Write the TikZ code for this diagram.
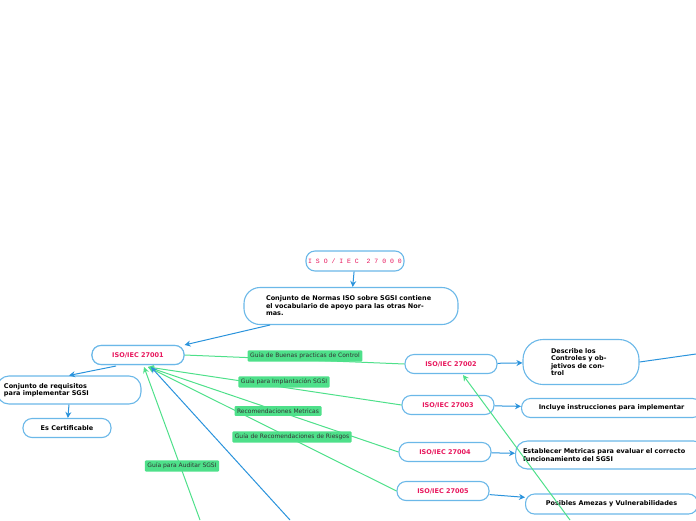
\documentclass[tikz,border=0pt]{standalone}
\usepackage{fontspec}
\setmainfont{DejaVu Sans}
\newfontfamily\monof{Liberation Mono}
\usetikzlibrary{arrows.meta}
\definecolor{bord}{HTML}{6BB8E8}
\definecolor{arr}{HTML}{2A93DC}
\definecolor{grn}{HTML}{4EE08A}
\definecolor{pnk}{HTML}{E8175D}
\begin{document}
\begin{tikzpicture}[x=1pt,y=-1pt,
 box/.style={draw=bord,line width=1.1pt,rounded corners=9pt,fill=white,inner sep=2pt,font=\fontsize{6.5}{7.5}\selectfont\bfseries},
 iso/.style={box,minimum width=92pt,minimum height=19pt,text=pnk},
 lab/.style={fill=grn,rounded corners=1pt,inner sep=2.5pt,font=\fontsize{6}{7}\selectfont,text=black!80},
 ba/.style={draw=arr,line width=1pt,-{Stealth[length=6pt,width=6pt]}},
 ga/.style={draw=grn,line width=1pt,-{Stealth[length=6pt,width=6pt]}},
 gl/.style={draw=grn,line width=1pt}]
\useasboundingbox (0,0) rectangle (696,520);
\node[box,minimum width=98pt,minimum height=20pt,text=pnk,font=\monof\fontsize{6.5}{7.5}\selectfont] (i0) at (355,261) {I S O / I E C\ \ 2 7 0 0 0};
\node[box,minimum width=214pt,minimum height=37pt,rounded corners=16pt,text width=170pt,align=left] (c0) at (351,306) {Conjunto de Normas ISO sobre SGSI contiene el vocabulario de apoyo para las otras Normas.};
\node[iso] (i1) at (138,355) {ISO/IEC 27001};
\node[box,minimum width=144pt,minimum height=28pt,rounded corners=12pt,text width=130pt,align=left] (req) at (69,390) {Conjunto de requisitos\\para implementar SGSI};
\node[box,minimum width=88pt,minimum height=19pt] (cert) at (67,428) {Es Certificable};
\node[iso] (i2) at (451,364) {ISO/IEC 27002};
\node[box,minimum width=116pt,minimum height=45pt,rounded corners=20pt,text width=60pt,align=left] (desc) at (581,362) {Describe los Controles y objetivos de control};
\node[iso] (i3) at (448,405) {ISO/IEC 27003};
\node[box,minimum width=180pt,minimum height=19pt,anchor=west] (inc) at (521,408) {Incluye instrucciones para implementar};
\node[iso] (i4) at (445,452) {ISO/IEC 27004};
\node[box,minimum width=190pt,minimum height=28pt,rounded corners=12pt,anchor=west,text width=175pt,align=left] (est) at (515,455) {Establecer Metricas para evaluar el correcto funcionamiento del SGSI};
\node[iso] (i5) at (443,491) {ISO/IEC 27005};
\node[box,minimum width=172pt,minimum height=20pt,anchor=west] (pos) at (525,504) {Posibles Amezas y Vulnerabilidades};
\coordinate (b1) at (148,367);
\coordinate (b2) at (144,367);
\coordinate (b3) at (151,367);
\coordinate (g0) at (200,520);
\coordinate (u0) at (290,520);
\coordinate (g2) at (570,520);
\coordinate (d0) at (696,354);
\begin{scope}[on background layer/.style={}]
\end{scope}
\draw[gl] (i2.west) -- (i1.east);
\draw[ga] (i3.west) -- (b1);
\draw[ga] (i4.west) -- (b1);
\draw[ga] (i5.west) -- (b1);
\draw[ga] (g0) -- (b2);
\draw[ba] (u0) -- (b3);
\draw[ga] (g2) -- (463,375);
\draw[arr,line width=1pt] (desc.east) -- (d0);
\draw[ba] (i0) -- (c0);
\draw[ba] (270,325) -- (i1.north east);
\draw[ba] (116,366) -- (req.north);
\draw[ba] (req.south) -- (cert);
\draw[ba] (i2) -- (desc);
\draw[ba] (i3) -- (inc);
\draw[ba] (i4) -- (est);
\draw[ba] (i5) -- (pos);
\node[lab] (l1) at (305,356) {Guía de Buenas practicas de Control};
\node[lab] (l2) at (284,382) {Guía para Implantación SGSI};
\node[lab] (l3) at (278,411) {Recomendaciones Metricas};
\node[lab] (l4) at (292,437) {Guía de Recomendaciones de Riesgos};
\node[lab] (l5) at (182,466) {Guía para Auditar SGSI};
\node[box,minimum width=92pt,minimum height=19pt,text=pnk] at (138,355) {ISO/IEC 27001};
\end{tikzpicture}
\end{document}
